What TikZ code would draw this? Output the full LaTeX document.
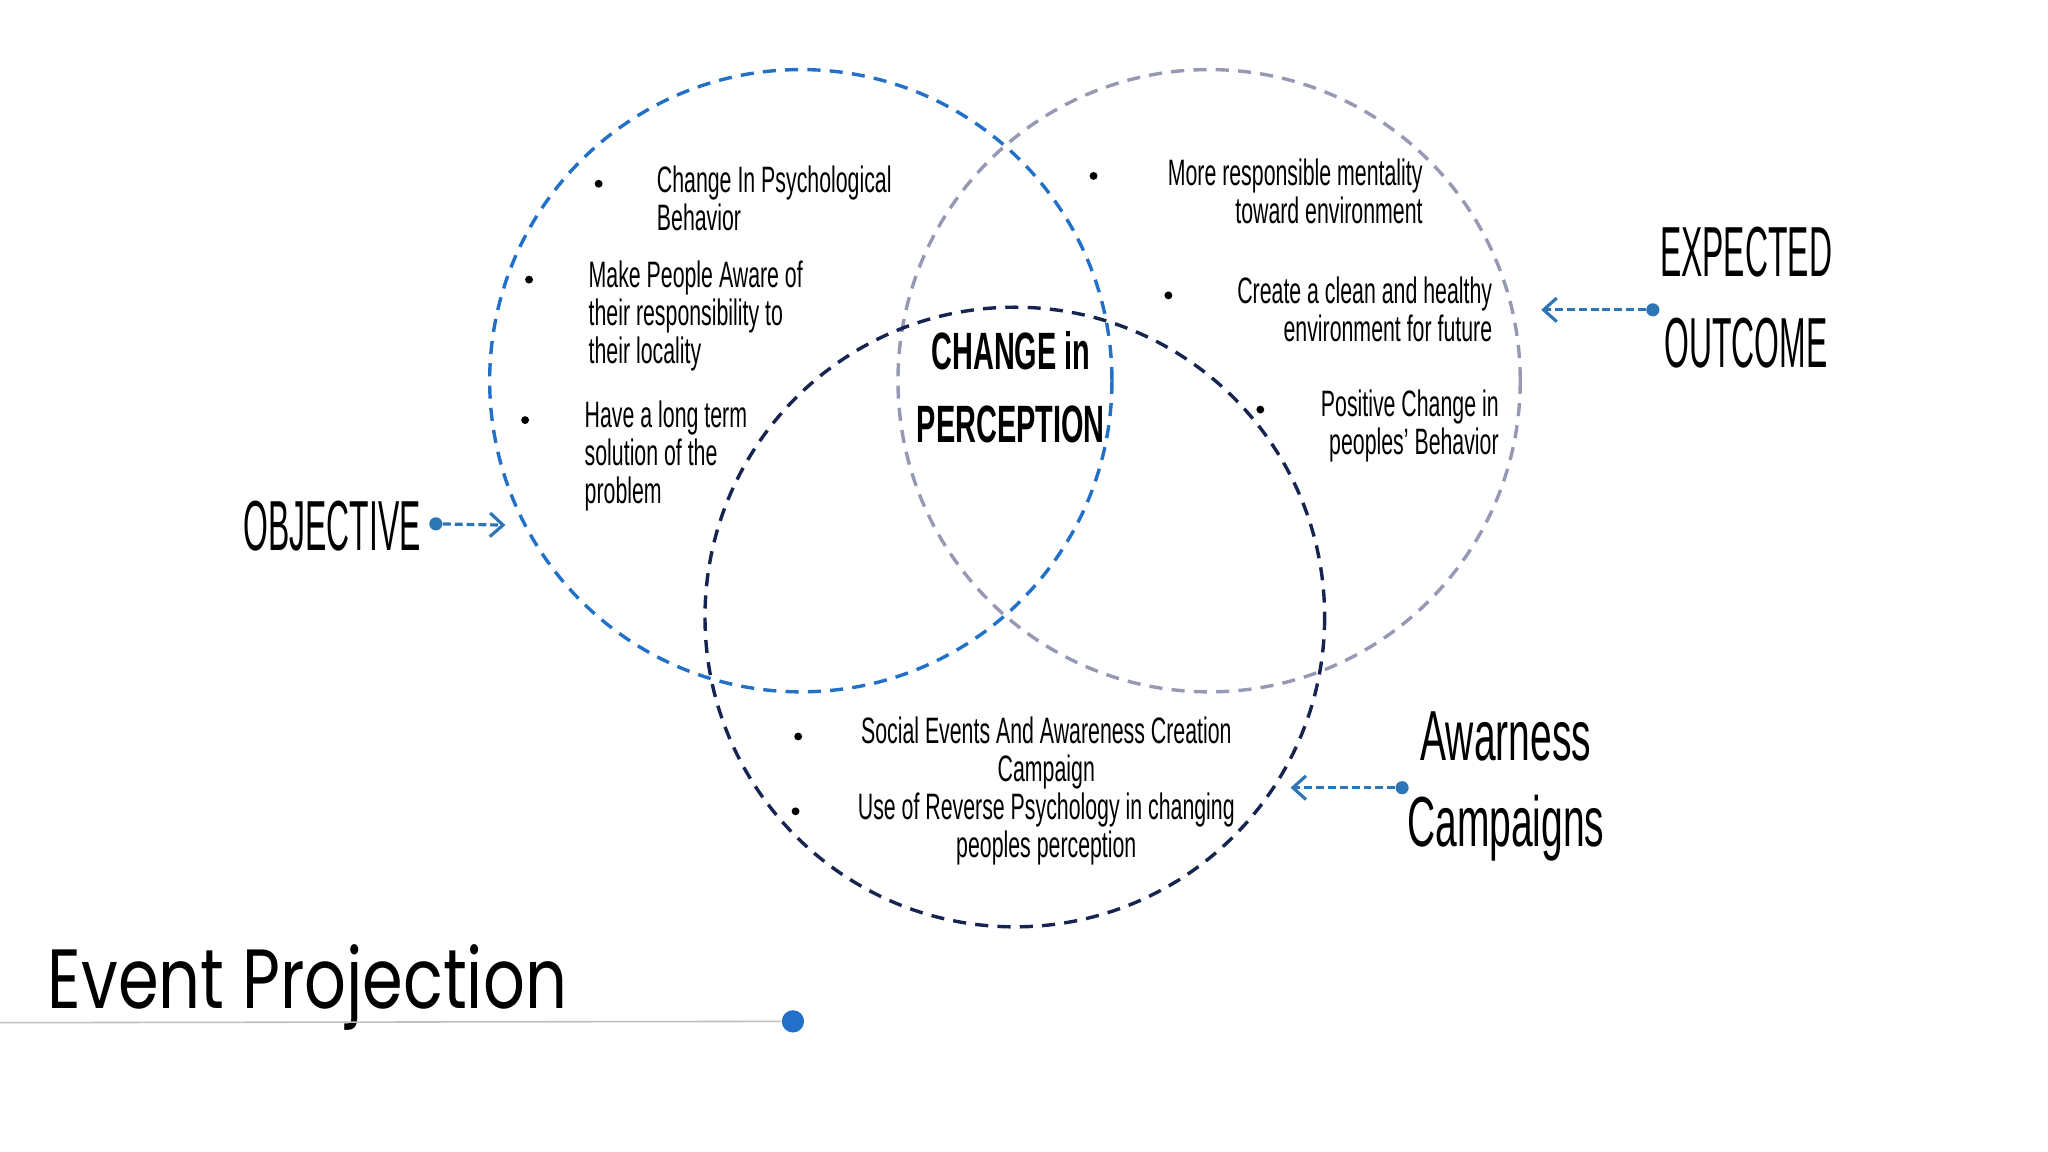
\documentclass[tikz,border=0pt]{standalone}
\usepackage{fontspec}
\setmainfont{Liberation Sans}
\newfontfamily\titlefont{Poppins}
\usepackage{graphicx}
\usetikzlibrary{arrows.meta}
\definecolor{cblue}{RGB}{35,112,200}
\definecolor{cgray}{RGB}{150,152,180}
\definecolor{cnavy}{RGB}{22,36,82}
\definecolor{carrow}{RGB}{46,117,182}
\newcommand{\nr}[2][l]{\scalebox{0.58}[1]{\begin{tabular}{@{}#1@{}}#2\end{tabular}}}
\tikzset{
  circ/.style={line width=1.3pt, dash pattern=on 5pt off 3.5pt},
  item/.style={font=\fontsize{14}{14.5}\selectfont, inner sep=0pt},
  bul/.style={circle, fill=black, inner sep=0pt, minimum size=3pt},
  lbl/.style={font=\fontsize{27}{26}\selectfont, inner sep=0pt},
  conn/.style={carrow, line width=1.2pt, dash pattern=on 3pt off 1.5pt, -{Straight Barb[length=5pt,width=9pt]}},
  dot/.style={circle, fill=carrow, inner sep=0pt, minimum size=5pt}
}
\begin{document}
\begin{tikzpicture}[x=0.5pt,y=-0.5pt]
\useasboundingbox (0,0) rectangle (1560,877.5);
\draw[circ,cblue] (610,290) circle (237);
\draw[circ,cgray] (921,290) circle (237);
\draw[circ,cnavy] (773,470) circle (236);

\node[font=\bfseries\fontsize{20}{21}\selectfont, inner sep=0pt] (center) at (770,301) {\scalebox{0.55}[1]{\begin{tabular}{@{}c@{}}CHANGE in\\[0.35em]PERCEPTION\end{tabular}}};

\node[bul] (b1) at (456,140) {};
\node[item, anchor=west] (t1) at (500,155) {\nr{Change In Psychological\\Behavior}};
\node[bul] (b2) at (403,213) {};
\node[item, anchor=west] (t2) at (448,242) {\nr{Make People Aware of\\their responsibility to\\their locality}};
\node[bul] (b3) at (400,320) {};
\node[item, anchor=west] (t3) at (445,349) {\nr{Have a long term\\solution of the\\problem}};

\node[bul] (b4) at (833,134) {};
\node[item, anchor=east] (t4) at (1084,150) {\nr[r]{More responsible mentality\\toward environment}};
\node[bul] (b5) at (890,225) {};
\node[item, anchor=east] (t5) at (1137,240) {\nr[r]{Create a clean and healthy\\environment for future}};
\node[bul] (b6) at (960,312) {};
\node[item, anchor=east] (t6) at (1142,326) {\nr[r]{Positive Change in\\peoples' Behavior}};

\node[bul] (b7) at (608,561) {};
\node[item] (t7) at (797,575) {\nr[c]{Social Events And Awareness Creation\\Campaign}};
\node[bul] (b8) at (606,618) {};
\node[item] (t8) at (797,633) {\nr[c]{Use of Reverse Psychology in changing\\peoples perception}};

\node[lbl, anchor=east] (obj) at (321,401) {\scalebox{0.45}[1]{OBJECTIVE}};
\node[lbl] (exp) at (1330,234) {\scalebox{0.45}[1]{\begin{tabular}{@{}c@{}}EXPECTED\\[0.3em]OUTCOME\end{tabular}}};
\node[lbl] (awa) at (1147,601) {\scalebox{0.55}[1]{\begin{tabular}{@{}c@{}}Awarness\\[0.2em]Campaigns\end{tabular}}};

\node[dot] (d1) at (332,399) {};
\coordinate (e1) at (385,400);
\draw[conn] (d1) -- (e1);
\node[dot] (d2) at (1259,236) {};
\coordinate (e2) at (1174,236);
\draw[conn] (d2) -- (e2);
\node[dot] (d3) at (1068,600) {};
\coordinate (e3) at (983,600);
\draw[conn] (d3) -- (e3);

\node[font=\titlefont\fontsize{32}{32}\selectfont, anchor=base west, inner sep=0pt] (title) at (36,768) {\scalebox{0.78}[1]{Event Projection}};
\node[circle, fill=cblue, inner sep=0pt, minimum size=8.5pt] (tdot) at (604,778) {};
\coordinate (l0) at (0,779);
\draw[gray!50, line width=0.6pt] (l0) -- (tdot);
\end{tikzpicture}
\end{document}
